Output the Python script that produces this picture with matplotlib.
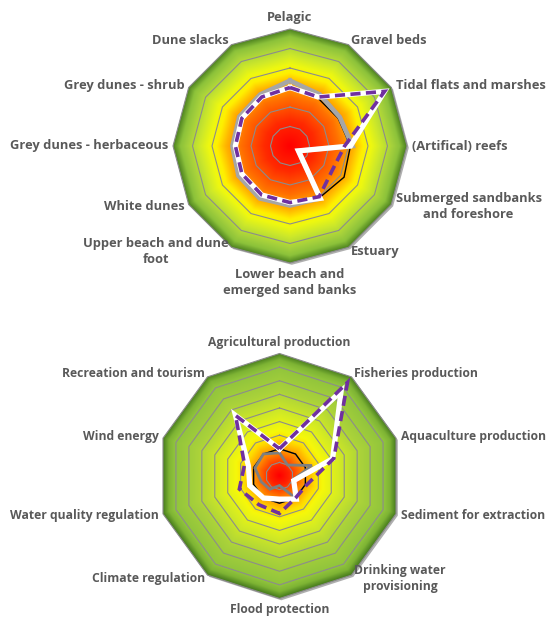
import numpy as np
import matplotlib
matplotlib.use("Agg")
import matplotlib.pyplot as plt
from matplotlib.colors import LinearSegmentedColormap
from matplotlib.patches import Polygon

W, H, DPI = 550, 626, 100

# ---------------- data: habitats (top chart) ----------------
habitats = ["Pelagic", "Gravel beds", "Tidal flats and marshes", "(Artifical) reefs",
            "Submerged sandbanks\nand foreshore", "Estuary",
            "Lower beach and\nemerged sand banks", "Upper beach and dune\nfoot",
            "White dunes", "Grey dunes - herbaceous", "Grey dunes - shrub", "Dune slacks"]
hab_gray   = [3.35, 3.05, 2.95, 3.2, 0.5, 3.1, 3.05, 3.1, 3.05, 2.95, 3.0, 3.05]
hab_black  = [3.05, 2.85, 2.85, 3.1, 3.2, 3.05, 2.95, 2.9, 2.85, 2.8, 2.85, 2.9]
hab_white  = [3.0, 2.9, 5.6, 3.1, 0.5, 3.1, 2.9, 2.9, 2.85, 2.8, 2.85, 2.9]
hab_purple = [3.0, 2.9, 5.6, 2.8, 2.5, 3.0, 2.9, 2.9, 2.85, 2.8, 2.85, 2.9]
hab_max = 6

# ---------------- data: ecosystem services (bottom chart) ----------------
services = ["Agricultural production", "Fisheries production", "Aquaculture production",
            "Sediment for extraction", "Drinking water\nprovisioning", "Flood protection",
            "Climate regulation", "Water quality regulation", "Wind energy",
            "Recreation and tourism"]
srv_black  = [2.0, 2.0, 2.0, 2.0, 2.0, 2.0, 2.0, 2.0, 2.0, 2.0]
srv_gray   = [1.7, 1.0, 2.5, 1.0, 2.0, 0.7, 1.2, 1.4, 1.9, 2.0]
srv_white  = [2.0, 7.7, 4.1, 1.1, 2.1, 1.7, 2.0, 2.3, 2.4, 5.5]
srv_purple = [2.0, 8.5, 4.2, 2.1, 2.0, 2.75, 2.6, 3.1, 2.7, 5.5]
srv_max = 9

TEXT = "#595959"
PURPLE = "#7030A0"

top_cmap = LinearSegmentedColormap.from_list("top", [
    (0.00, "#FF0000"), (0.22, "#FF2A00"), (0.42, "#FF7000"), (0.55, "#FFB400"),
    (0.63, "#FFF000"), (0.70, "#EEF810"), (0.78, "#CDE82A"), (0.88, "#A4D03C"),
    (0.94, "#8CC23A"), (1.00, "#4F8420")])
bot_cmap = LinearSegmentedColormap.from_list("bot", [
    (0.00, "#FF0000"), (0.08, "#FF2200"), (0.20, "#FF8C00"), (0.30, "#FFDC00"),
    (0.37, "#F6F80A"), (0.50, "#D6EC22"), (0.70, "#AAD23A"), (0.90, "#90C43C"),
    (0.95, "#7EB434"), (1.00, "#4A7F1E")])


def radar(cx, cy, scale, labels, rmax, cmap, series, gray_style, label_r, fsize):
    n = len(labels)
    h = 165.0
    ax = fig.add_axes([(cx - h) / W, (H - cy - h) / H, 2 * h / W, 2 * h / H])
    lim = h / scale
    ax.set_xlim(-lim, lim)
    ax.set_ylim(-lim, lim)
    ax.axis("off")

    theta = np.pi / 2 - 2 * np.pi * np.arange(n) / n
    vx, vy = rmax * np.cos(theta), rmax * np.sin(theta)

    # shadow + gradient background
    px = 1.0 / scale
    shadow = Polygon(np.column_stack([vx + 1.8 * px, vy - 1.8 * px]), closed=True,
                     facecolor="#7a7a7a", edgecolor="none", alpha=0.6, zorder=0)
    ax.add_patch(shadow)
    poly = Polygon(np.column_stack([vx, vy]), closed=True, facecolor="none",
                   edgecolor="#8a8a8a", linewidth=0.8, zorder=1.5)
    ax.add_patch(poly)
    g = np.linspace(-rmax, rmax, 700)
    X, Y = np.meshgrid(g, g)
    r = np.hypot(X, Y)
    phi = np.arctan2(Y, X)
    step = 2 * np.pi / n
    alpha = np.mod(theta[0] - phi, step)
    rpoly = rmax * np.cos(np.pi / n) / np.cos(alpha - np.pi / n)
    t = np.clip(r / rpoly, 0, 1)
    im = ax.imshow(cmap(t), extent=[-rmax, rmax, -rmax, rmax], origin="lower",
                   zorder=1, interpolation="bilinear")
    im.set_clip_path(poly)

    # grid rings
    for k in range(1, rmax):
        ax.plot(np.append(k * np.cos(theta), k * np.cos(theta[0])),
                np.append(k * np.sin(theta), k * np.sin(theta[0])),
                color="#8c8c8c", lw=0.8, zorder=2)

    def draw(vals, **kw):
        v = np.asarray(vals, dtype=float)
        ax.plot(np.append(v * np.cos(theta), v[0] * np.cos(theta[0])),
                np.append(v * np.sin(theta), v[0] * np.sin(theta[0])),
                solid_joinstyle="miter", dash_joinstyle="miter", **kw)

    black, gray, white, purple = series
    draw(black, color="black", lw=1.0, zorder=3)
    draw(gray, color=gray_style[0], lw=gray_style[1], zorder=4)
    draw(white, color="white", lw=3.8, zorder=5)
    draw(purple, color=PURPLE, lw=2.6, linestyle=(0, (2.8, 1.5)), zorder=6)

    for lab, th in zip(labels, theta):
        c, s = np.cos(th), np.sin(th)
        ha = "center" if abs(c) < 0.05 else ("left" if c > 0 else "right")
        va = "center"
        if s > 0.99:
            va = "bottom"
        elif s < -0.99:
            va = "top"
        ax.text(label_r * c, label_r * s, lab, ha=ha, va=va, multialignment="center",
                fontsize=fsize, color=TEXT, fontweight="bold", linespacing=1.3,
                family=["Open Sans", "DejaVu Sans"], clip_on=False, zorder=10)
    return ax


fig = plt.figure(figsize=(W / DPI, H / DPI), dpi=DPI)
fig.patch.set_facecolor("white")

radar(290, 146, 117 / hab_max, habitats, hab_max, top_cmap,
      (hab_black, hab_gray, hab_white, hab_purple), ("#A6A6A6", 3.4), 6.25, 9.3)
radar(279.5, 476, 122.5 / srv_max, services, srv_max, bot_cmap,
      (srv_black, srv_gray, srv_white, srv_purple), ("#7F7F7F", 2.0), 9.35, 8.7)

fig.savefig("out.png", dpi=DPI, facecolor="white")
